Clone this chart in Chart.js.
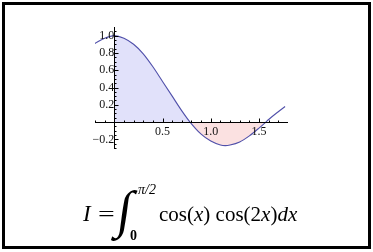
<!DOCTYPE html>
<html>
<head>
<meta charset="utf-8">
<script src="https://cdn.jsdelivr.net/npm/chart.js@4"></script>
<style>
  html, body { margin: 0; padding: 0; background: #fff; }
  #wrap { position: relative; width: 373px; height: 252px; overflow: hidden; }
  #frame { position: absolute; left: 2px; top: 2px; width: 369px; height: 247px; border: 3px solid #000; box-sizing: border-box; }
  #plot { position: absolute; left: 0; top: 0; }
  .tx { position: absolute; line-height: 1; white-space: nowrap; font-family: "Liberation Serif", "DejaVu Serif", serif; color: #000; }
  .it { font-style: italic; }
</style>
</head>
<body>
<div id="wrap">
  <div id="frame"></div>
  <canvas id="plot" width="373" height="252"></canvas>
  <span class="tx it" style="left:83px; top:202px; font-size:23px;">I</span>
  <span class="tx" style="left:98px; top:203px; font-size:22px; transform:scaleX(1.35); transform-origin:left;">=</span>
  <span class="tx" style="left:118px; top:184px; font-size:52px; transform:skewX(-8deg);">&#8747;</span>
  <span class="tx it" style="left:138px; top:183px; font-size:14px;">&pi;/2</span>
  <span class="tx" style="left:130px; top:229px; font-size:14px; font-weight:bold;">0</span>
  <span class="tx" style="left:159px; top:204px; font-size:21px;">cos(<span class="it">x</span>) cos(2<span class="it">x</span>)<span class="it">dx</span></span>
</div>
<script>
// values
const curveX = [-0.2, -0.1, 0, 0.1, 0.2, 0.3, 0.4, 0.5, 0.6, 0.7, 0.785, 0.9, 1.0, 1.1, 1.15, 1.2, 1.3, 1.4, 1.5, 1.571, 1.6, 1.7, 1.77];
const curveY = [0.91, 0.97, 1.0, 0.97, 0.90, 0.79, 0.64, 0.47, 0.30, 0.13, 0, -0.14, -0.22, -0.265, -0.272, -0.265, -0.23, -0.16, -0.07, 0, 0.03, 0.12, 0.18];

// shaded pieces of the integral
const posFrom = 0, posTo = 0.785;
const negFrom = 0.785, negTo = 1.571;

const xTickLabels = [0.5, 1.0, 1.5];
const yTickLabels = [-0.2, 0.2, 0.4, 0.6, 0.8, 1.0];

const points = curveX.map((x, i) => ({ x: x, y: curveY[i] }));
const piece = (a, b) => points.filter(p => p.x >= a - 1e-9 && p.x <= b + 1e-9);

const fmt = v => v.toFixed(1).replace('-', '\u2212');

// Mathematica style inward tick marks
const tickMarks = {
  id: 'tickMarks',
  afterDraw(chart) {
    const ctx = chart.ctx;
    const xs = chart.scales.x, ys = chart.scales.y;
    const x0 = xs.getPixelForValue(0), y0 = ys.getPixelForValue(0);
    ctx.save();
    ctx.strokeStyle = '#000';
    ctx.lineWidth = 1;
    ctx.beginPath();
    for (let k = -2; k <= 17; k++) {
      if (k === 0) continue;
      const px = Math.round(xs.getPixelForValue(k / 10)) + 0.5;
      const len = k % 5 === 0 ? 4 : 2;
      ctx.moveTo(px, Math.round(y0) + 0.5);
      ctx.lineTo(px, Math.round(y0) + 0.5 - len);
    }
    for (let k = -6; k <= 21; k++) {
      if (k === 0) continue;
      const py = Math.round(ys.getPixelForValue(k / 20)) + 0.5;
      const len = k % 4 === 0 ? 4 : 2;
      ctx.moveTo(Math.round(x0) + 0.5, py);
      ctx.lineTo(Math.round(x0) + 0.5 + len, py);
    }
    ctx.stroke();
    ctx.restore();
  }
};

const tickFont = { family: 'Liberation Serif', size: 12 };

new Chart(document.getElementById('plot'), {
  type: 'line',
  data: {
    datasets: [
      {
        data: points,
        borderColor: '#5050aa',
        borderWidth: 1.1,
        pointRadius: 0,
        fill: false,
        cubicInterpolationMode: 'monotone'
      },
      {
        data: piece(posFrom, posTo),
        borderWidth: 0,
        pointRadius: 0,
        backgroundColor: '#e1e1fa',
        fill: 'origin',
        cubicInterpolationMode: 'monotone'
      },
      {
        data: piece(negFrom, negTo),
        borderWidth: 0,
        pointRadius: 0,
        backgroundColor: '#fbe1e1',
        fill: 'origin',
        cubicInterpolationMode: 'monotone'
      }
    ]
  },
  options: {
    responsive: false,
    animation: false,
    devicePixelRatio: 1,
    layout: { padding: { left: 95, right: 86, top: 27, bottom: 104 } },
    plugins: { legend: { display: false }, tooltip: { enabled: false } },
    scales: {
      x: {
        type: 'linear',
        min: -0.2,
        max: 1.79,
        position: { y: 0 },
        grid: { drawOnChartArea: false, drawTicks: false },
        border: { color: '#000', width: 1, z: 1 },
        afterBuildTicks: s => { s.ticks = xTickLabels.map(v => ({ value: v })); },
        ticks: { callback: v => fmt(v), font: tickFont, color: '#111', padding: 3, maxRotation: 0, autoSkip: false, z: 1 }
      },
      y: {
        type: 'linear',
        min: -0.3,
        max: 1.1,
        position: { x: 0 },
        grid: { drawOnChartArea: false, drawTicks: false },
        border: { color: '#000', width: 1, z: 1 },
        afterBuildTicks: s => { s.ticks = yTickLabels.map(v => ({ value: v })); },
        ticks: { callback: v => fmt(v), font: tickFont, color: '#111', padding: 5, autoSkip: false, z: 1 }
      }
    }
  },
  plugins: [tickMarks]
});
</script>
</body>
</html>
